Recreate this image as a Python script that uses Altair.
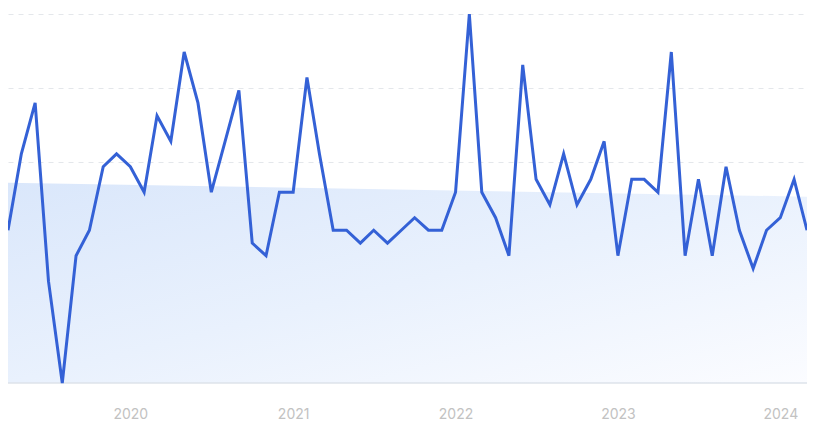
import altair as alt
import pandas as pd

# Monthly series, Apr 2019 .. Mar 2024 (normalised 0-100)
months = pd.date_range("2019-04-01", "2024-03-01", freq="MS").strftime("%Y-%m-%d").tolist()
values = [
    41.4, 62.1, 75.9, 27.6, 0.0, 34.5, 41.4, 58.6, 62.1,
    58.6, 51.7, 72.4, 65.5, 89.7, 75.9, 51.7, 65.5, 79.3, 37.9, 34.5, 51.7, 51.7,
    82.8, 62.1, 41.4, 41.4, 37.9, 41.4, 37.9, 41.4, 44.8, 41.4, 41.4, 51.7,
    100.0, 51.7, 44.8, 34.5, 86.2, 55.2, 48.3, 62.1, 48.3, 55.2, 65.5, 34.5,
    55.2, 55.2, 51.7, 89.7, 34.5, 55.2, 34.5, 58.6, 41.4, 31.0, 41.4, 44.8,
    55.2, 41.4,
]
trend_dates = ["2019-04-01", "2024-03-01"]
trend_values = [54.3, 50.5]
grid_values = [20, 40, 60, 80, 100]

df = pd.DataFrame({"date": months, "value": values})
trend = pd.DataFrame({"date": trend_dates, "value": trend_values})
base = pd.DataFrame({"date": trend_dates, "value": [0, 0]})

xscale = alt.Scale(domain=["2019-04-01", "2024-03-01"])
yscale = alt.Scale(domain=[0, 100], nice=False, zero=True)

xaxis = alt.Axis(
    format="%Y", tickCount={"interval": "year", "step": 1}, grid=False, domain=False,
    ticks=False, labelFontSize=14, labelColor="#c2c2c2", labelFont="Inter",
    labelPadding=24, title=None,
)
yaxis = alt.Axis(
    labels=False, ticks=False, domain=False, grid=True, gridDash=[5, 5],
    gridColor="#e4e7eb", gridWidth=1, values=grid_values, title=None,
)

grad = alt.Gradient(
    gradient="linear",
    stops=[
        alt.GradientStop(color="#dae7fb", offset=0),
        alt.GradientStop(color="#e9f1fd", offset=0.5),
        alt.GradientStop(color="#fbfcff", offset=1),
    ],
    x1=0, y1=0, x2=1, y2=1,
)

area = alt.Chart(trend).mark_area(color=grad, opacity=1).encode(
    x=alt.X("date:T", scale=xscale, axis=xaxis),
    y=alt.Y("value:Q", scale=yscale, axis=yaxis),
)

baseline = alt.Chart(base).mark_rule(color="#dde3ea", strokeWidth=1).encode(
    y=alt.Y("value:Q", scale=yscale),
    x=alt.value(-8),
    x2=alt.value(799),
)

line = alt.Chart(df).mark_line(color="#3461d6", strokeWidth=3, strokeJoin="miter").encode(
    x=alt.X("date:T", scale=xscale),
    y=alt.Y("value:Q", scale=yscale),
)

chart = alt.layer(area, baseline, line).properties(
    width=799, height=369,
    autosize=alt.AutoSizeParams(type="none"),
    padding={"left": 0, "top": 6, "right": 0, "bottom": 44},
).configure_view(strokeWidth=0)

chart.save("out.html", embed_options={"renderer": "svg", "actions": False})
